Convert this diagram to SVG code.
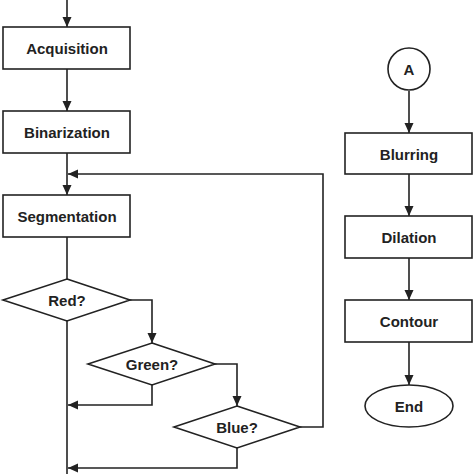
<svg xmlns="http://www.w3.org/2000/svg" width="474" height="474" viewBox="0 0 474 474">
<style>
.s{fill:#fff;stroke:#222;stroke-width:1.6}
.t{font-family:"Liberation Sans",Arial,sans-serif;font-weight:bold;font-size:15px;fill:#222;text-anchor:middle;dominant-baseline:central}
.c{fill:none;stroke:#222;stroke-width:1.6}
</style>
<defs>
<marker id="a" markerWidth="10" markerHeight="10" refX="10" refY="5" orient="auto" markerUnits="userSpaceOnUse">
<path d="M0,0.5 L10,5 L0,9.5 Z" fill="#222"/>
</marker>
</defs>
<rect width="474" height="474" fill="#fff"/>
<g id="connectors">
<path class="c" d="M67,0 V27" marker-end="url(#a)"/>
<path class="c" d="M67,69 V111" marker-end="url(#a)"/>
<path class="c" d="M67,153 V195" marker-end="url(#a)"/>
<path class="c" d="M67,237 V279"/>
<path class="c" d="M67,321 V474"/>
<path class="c" d="M130,300 H152 V343" marker-end="url(#a)"/>
<path class="c" d="M152,385 V405 H68" marker-end="url(#a)"/>
<path class="c" d="M215,364 H237 V406" marker-end="url(#a)"/>
<path class="c" d="M237,448 V468 H68" marker-end="url(#a)"/>
<path class="c" d="M300,427 H323 V174 H68" marker-end="url(#a)"/>
<path class="c" d="M409,91 V133" marker-end="url(#a)"/>
<path class="c" d="M409,174 V216" marker-end="url(#a)"/>
<path class="c" d="M409,258 V300" marker-end="url(#a)"/>
<path class="c" d="M409,342 V385" marker-end="url(#a)"/>
</g>
<g id="acquisition"><rect class="s" x="3" y="27" width="127" height="42"/><text class="t" x="67" y="48">Acquisition</text></g>
<g id="binarization"><rect class="s" x="3" y="111" width="127" height="42"/><text class="t" x="67" y="132">Binarization</text></g>
<g id="segmentation"><rect class="s" x="3" y="195" width="127" height="42"/><text class="t" x="67" y="216">Segmentation</text></g>
<g id="red"><path class="s" d="M67,279 L130,300 L67,321 L3,300 Z"/><text class="t" x="67" y="300">Red?</text></g>
<g id="green"><path class="s" d="M152,343 L215,364 L152,385 L88,364 Z"/><text class="t" x="152" y="364">Green?</text></g>
<g id="blue"><path class="s" d="M237,406 L300,427 L237,448 L174,427 Z"/><text class="t" x="237" y="427">Blue?</text></g>
<g id="a-connector"><circle class="s" cx="409" cy="69" r="21"/><text class="t" x="409" y="69">A</text></g>
<g id="blurring"><rect class="s" x="345" y="133" width="127" height="41"/><text class="t" x="409" y="154">Blurring</text></g>
<g id="dilation"><rect class="s" x="345" y="216" width="127" height="42"/><text class="t" x="409" y="237">Dilation</text></g>
<g id="contour"><rect class="s" x="345" y="300" width="127" height="42"/><text class="t" x="409" y="321">Contour</text></g>
<g id="end"><ellipse class="s" cx="409" cy="406" rx="44" ry="21"/><text class="t" x="409" y="406">End</text></g>
</svg>
